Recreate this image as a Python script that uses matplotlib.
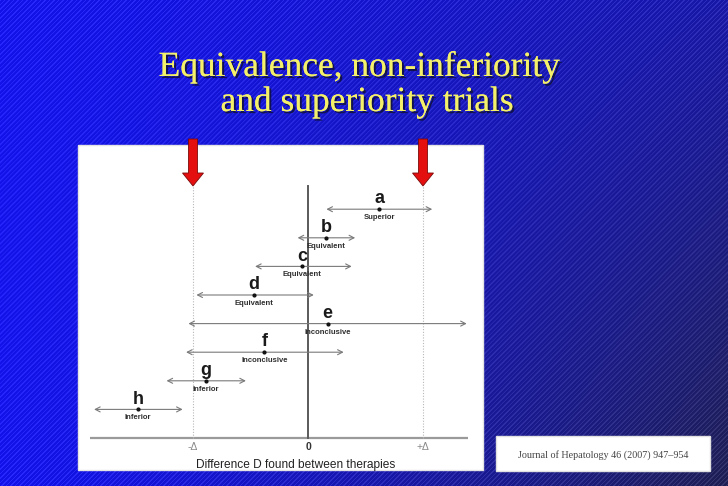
import numpy as np
import matplotlib
matplotlib.use("Agg")
import matplotlib.pyplot as plt
from matplotlib.patches import Rectangle, Polygon
import matplotlib.patheffects as pe

# ---- data (in units of the margin delta) ----
labels = ['a', 'b', 'c', 'd', 'e', 'f', 'g', 'h']
verdicts = ['Superior', 'Equivalent', 'Equivalent', 'Equivalent',
            'Inconclusive', 'Inconclusive', 'Inferior', 'Inferior']
point = [0.62, 0.16, -0.05, -0.47, 0.17, -0.38, -0.89, -1.48]
low = [0.16, -0.09, -0.46, -0.97, -1.04, -1.06, -1.23, -1.86]
high = [1.08, 0.41, 0.38, 0.05, 1.38, 0.31, -0.54, -1.09]
rows = [8, 7, 6, 5, 4, 3, 2, 1]
tick_pos = [-1, 0, 1]
tick_labels = ['-\u0394', '0', '+\u0394']
title_lines = ['Equivalence, non-inferiority', 'and superiority trials']
xlabel = 'Difference D found between therapies'
source = 'Journal of Hepatology 46 (2007) 947\u2013954'

W, H = 728, 486
fig = plt.figure(figsize=(W / 100, H / 100), dpi=100)

# ---- background: blue gradient with diagonal stripes ----
bg = fig.add_axes([0, 0, 1, 1])
yy, xx = np.mgrid[0:H, 0:W]
t = np.clip((xx / W) ** 1.3 * (0.45 + 0.55 * yy / H), 0, 1)
bright = np.array([18, 18, 232]) / 255
dark = np.array([30, 30, 82]) / 255
img = bright[None, None, :] * (1 - t[..., None]) + dark[None, None, :] * t[..., None]
stripe = (((xx + yy) % 4.5) < 1.2).astype(float)
img = np.clip(img + stripe[..., None] * np.array([0.09, 0.09, 0.09]), 0, 1)
bg.imshow(img, extent=[0, W, H, 0], interpolation='bilinear', aspect='auto')
bg.set_xlim(0, W)
bg.set_ylim(H, 0)
bg.axis('off')

# title
for i, line in enumerate(title_lines):
    bg.text([359, 367][i], [76, 111][i], line, fontsize=25.5, family='Liberation Serif',
            color='#F4F06A', ha='center', va='baseline',
            path_effects=[pe.withSimplePatchShadow(offset=(1.5, -1.5), shadow_rgbFace='#101030', alpha=0.8),
                          pe.Normal()])

# white panel
bg.add_patch(Rectangle((78, 145), 405, 325, facecolor='white', edgecolor='#e4e4e4', lw=1))
# journal box
bg.add_patch(Rectangle((496, 436), 214, 35, facecolor='white', edgecolor='#e0e0e0', lw=1))
bg.text(603, 458, source, fontsize=7.3, family='Liberation Serif', color='#444444',
        ha='center', va='baseline')

# ---- chart axes ----
left, right, top, bottom = 78, 483, 145, 470
ax = fig.add_axes([left / W, (H - bottom) / H, (right - left) / W, (bottom - top) / H])
ax.set_xlim((left - 308) / 115, (right - 308) / 115)
ax.set_ylim(-(bottom - 438) / 28.6, (438 - top) / 28.6)
ax.patch.set_alpha(0)
ax.axis('off')

# axis line and zero line
ax.plot([-1.90, 1.39], [0, 0], color='#9a9a9a', lw=1.6, solid_capstyle='butt')
ax.plot([0, 0], [0, 8.8], color='#5a5a5a', lw=1.4)
for d in (-1, 1):
    ax.plot([d, d], [0, 8.85], color='#b8b8b8', lw=0.8, ls=(0, (1, 1.5)))

for lab, ver, p, lo, hi, r in zip(labels, verdicts, point, low, high, rows):
    ax.annotate('', xy=(hi, r), xytext=(lo, r),
                arrowprops=dict(arrowstyle='<->,head_length=0.35,head_width=0.18',
                                color='#7a7a7a', lw=0.8, shrinkA=0, shrinkB=0))
    ax.plot([p], [r], marker='o', ms=2.0, color='#111111', zorder=3)
    ax.text(p, r + 0.2, lab, fontsize=13, fontweight='bold', family='Liberation Sans',
            color='#1a1a1a', ha='center', va='baseline')
    ax.text(p, r - 0.3, ver, fontsize=5.5, fontweight='bold', family='Liberation Sans',
            color='#2e2e2e', ha='center', va='center')

for tp, tl in zip(tick_pos, tick_labels):
    ax.text(tp, -0.33, tl, fontsize=7.5, family='Liberation Sans',
            color='#333333' if tp == 0 else '#888888',
            fontweight='bold' if tp == 0 else 'normal', ha='center', va='center')
ax.text(-0.11, -0.95, xlabel, fontsize=8.6, family='Liberation Sans', color='#222222',
        ha='center', va='center')

# red arrows pointing at the margins
for d in (-1, 1):
    sw, hw = 4.5 / 115, 10.5 / 115
    y0, yh, y1 = (438 - 139) / 28.6, (438 - 173) / 28.6, (438 - 186) / 28.6
    poly = Polygon([(d - sw, y0), (d + sw, y0), (d + sw, yh), (d + hw, yh),
                    (d, y1), (d - hw, yh), (d - sw, yh)], closed=True,
                   facecolor='#E41010', edgecolor='#7a0a0a', lw=0.6, clip_on=False, zorder=5)
    ax.add_patch(poly)

fig.savefig('out.png', dpi=100)
